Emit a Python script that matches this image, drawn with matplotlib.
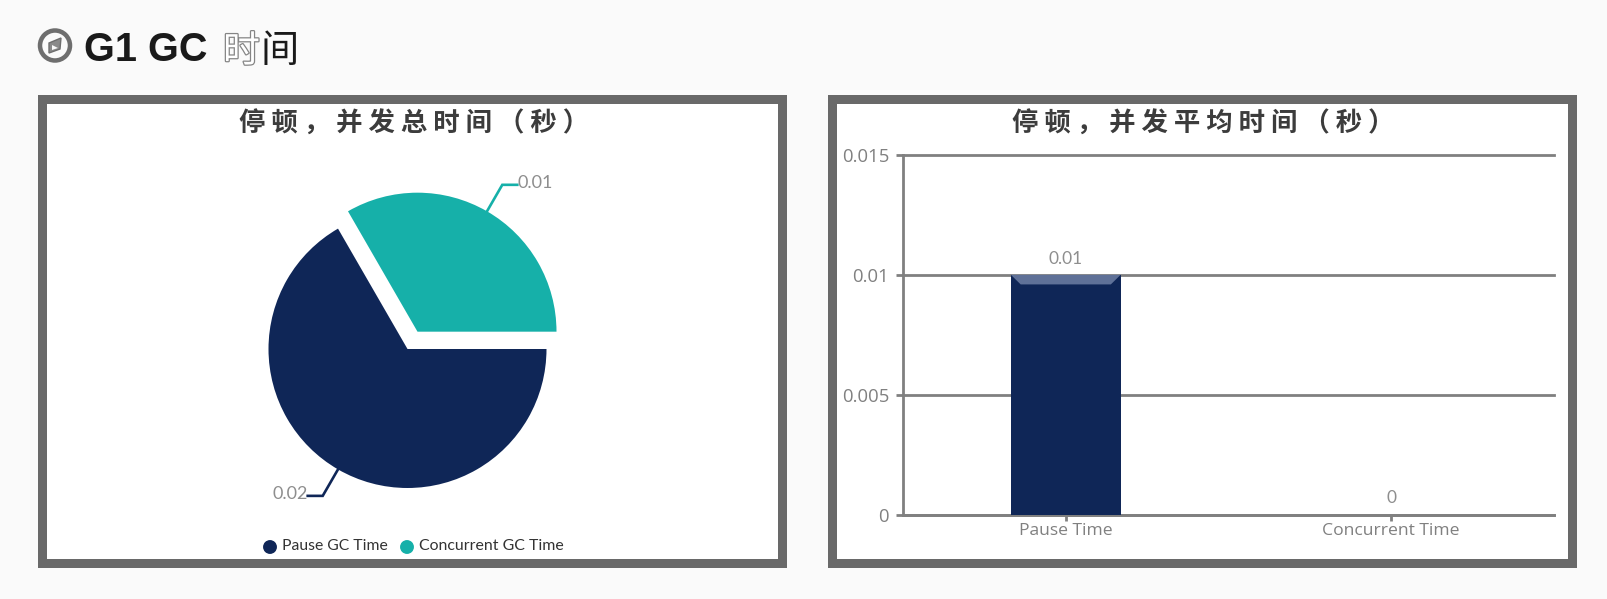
import matplotlib
matplotlib.use("Agg")
import matplotlib.pyplot as plt
import matplotlib.patheffects as pe
from matplotlib.patches import Circle, Rectangle, Polygon
import numpy as np

CJK = ["Noto Sans CJK SC", "DejaVu Sans"]
W, H = 1607, 599

# Just the values from the picture
pie_labels = ["Pause GC Time", "Concurrent GC Time"]
pie_values = [0.02, 0.01]
bar_labels = ["Pause Time", "Concurrent Time"]
bar_values = [0.01, 0]
y_ticks = [0, 0.005, 0.01, 0.015]
y_ticklabels = ["0", "0.005", "0.01", "0.015"]

navy = "#0f2657"
teal = "#16b0a9"
gray = "#808080"
frame_gray = "#696969"

fig = plt.figure(figsize=(W / 100, H / 100), dpi=100, facecolor="#fafafa")


def px_axes(left, top, right, bottom, **kw):
    # axes placed by reference pixel box
    return fig.add_axes([left / W, 1 - bottom / H, (right - left) / W, (bottom - top) / H], **kw)


# Background layer in pixel coords: frames, header, titles
bg = px_axes(0, 0, W, H, zorder=0)
bg.set(xlim=(0, W), ylim=(H, 0))
bg.axis("off")
for left in (42, 832):
    bg.add_patch(Rectangle((left, 99), 740, 464, fc="white", ec=frame_gray, lw=9 * 0.72))

# Header icon
bg.add_patch(Circle((55, 45.5), 15, fc="#fafafa", ec="#6e6e6e", lw=4.5 * 0.72))
bg.add_patch(Polygon([(49, 43), (61, 38), (60, 49), (49, 53)], fc="#8a8a8a", ec="#6e6e6e", lw=1))
bg.add_patch(Polygon([(52, 45), (58, 48), (52, 50)], fc="#fafafa", ec="none"))

# Header text
bg.text(84.5, 46, "G1 GC", family="Liberation Sans", weight="bold", fontsize=28.5,
        color="#1a1a1a", ha="left", va="center_baseline")
bg.text(223, 47, "时", family=CJK, fontsize=26.5, color="white", ha="left", va="center_baseline",
        path_effects=[pe.withStroke(linewidth=1.8, foreground="#858585")])
bg.text(260, 47, "间", family=CJK, fontsize=27.5, color="#1a1a1a", ha="left", va="center_baseline")

# Chart titles, the wide gaps come from plain spaces
bg.text(239, 121, "停 顿 ， 并 发 总 时 间 （ 秒 ）", family=CJK, weight="bold", fontsize=19,
        color="#3c3c3c", ha="left", va="center_baseline")
bg.text(1012, 121, "停 顿 ， 并 发 平 均 时 间 （ 秒 ）", family=CJK, weight="bold", fontsize=19,
        color="#3c3c3c", ha="left", va="center_baseline")

# Pie: box chosen so that radius 1 is 139 px about (407, 349)
pie_r = 139
half = 1.25 * pie_r
ax_pie = px_axes(407.5 - half, 349 - half, 407.5 + half, 349 + half, zorder=1)
wedges, _ = ax_pie.pie(pie_values, colors=[navy, teal], startangle=120,
                       explode=[0, 20 / pie_r], counterclock=True)
ax_pie.set(xlim=(-1.25, 1.25), ylim=(-1.25, 1.25))

# Leader lines and labels
for wedge, colour, val, side, expl in zip(wedges, [navy, teal], pie_values, [-1, 1], [0, 20 / pie_r]):
    mid = np.deg2rad((wedge.theta1 + wedge.theta2) / 2)
    dx, dy = np.cos(mid), np.sin(mid)
    xs = [(1 + expl) * dx, (1.22 + expl) * dx]
    ys = [(1 + expl) * dy, (1.22 + expl) * dy]
    xs.append(xs[-1] + side * 15 / pie_r)
    ys.append(ys[-1])
    ax_pie.plot(xs, ys, color=colour, lw=1.9, clip_on=False, solid_joinstyle="miter")
    ax_pie.text(xs[-1] + side * 0 / pie_r, ys[-1] + 2 / pie_r, f"{val:g}", family="Lato", fontsize=13,
                color="#8e8e8e", ha="left" if side > 0 else "right", va="center")

# Legend
bg.scatter([270, 407], [547, 547], s=100, c=[navy, teal], linewidths=0, zorder=3)
bg.text(282, 546.5, pie_labels[0], family="Lato", fontsize=11.3, color="#333333", va="center")
bg.text(419, 546.5, pie_labels[1], family="Lato", fontsize=11.4, color="#333333", va="center")

# Bars
ax = px_axes(903, 155, 1554, 514.5, zorder=1)
ax.patch.set_alpha(0)
xpos = np.arange(len(bar_labels))
bars = ax.bar(xpos, bar_values, width=0.337, color=navy, zorder=3)
ax.bar_label(bars, labels=[f"{v:g}" for v in bar_values], padding=6, family="Lato", fontsize=12.5,
             color="#8e8e8e", zorder=5)
ax.set(xlim=(-0.5, 1.5), ylim=(0, 0.015))
ax.set_xticks(xpos, bar_labels)
ax.set_yticks(y_ticks, y_ticklabels)
ax.tick_params(axis="y", length=5, width=2, color=gray, labelcolor=gray, labelsize=13.3, pad=5)
ax.tick_params(axis="x", length=4, width=2, color=gray, labelcolor=gray, labelsize=12.6, pad=2)
for lab in ax.get_xticklabels() + ax.get_yticklabels():
    lab.set_family("Open Sans")
ax.grid(axis="y", color=gray, lw=2, zorder=1, clip_on=False)
ax.set_axisbelow(True)
for side in ("top", "right"):
    ax.spines[side].set_visible(False)
for side in ("left", "bottom"):
    ax.spines[side].set_color(gray)
    ax.spines[side].set_linewidth(2)

# Glossy bevel along the top of the pause bar
bar = bars[0]
x0, x1, top = bar.get_x(), bar.get_x() + bar.get_width(), bar.get_height()
ax.add_patch(Polygon([(x0, top), (x1, top), (x1 - 0.03, top - 0.0004), (x0 + 0.03, top - 0.0004)],
                     fc="#5f7198", ec="none", zorder=4))

fig.savefig("out.png", dpi=100, facecolor=fig.get_facecolor())
